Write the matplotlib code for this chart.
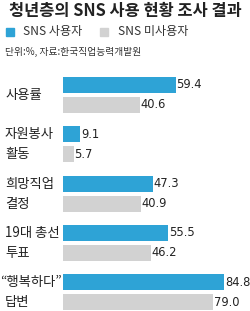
import numpy as np
import matplotlib
matplotlib.use('Agg')
import matplotlib.pyplot as plt

plt.rcParams['font.family'] = ['Noto Sans CJK KR', 'DejaVu Sans']

# 데이터
categories = ['사용률', '자원봉사\n활동', '희망직업\n결정', '19대 총선\n투표', '“행복하다”\n답변']
users = [59.4, 9.1, 47.3, 55.5, 84.8]
non_users = [40.6, 5.7, 40.9, 46.2, 79.0]

blue = '#2ea3d6'
gray = '#d2d2d2'

W, H = 250, 311
fig = plt.figure(figsize=(W / 100, H / 100), dpi=100)
fig.patch.set_facecolor('white')

# 제목, 범례, 단위
fig.text(0.5, 1 - 11 / H, '청년층의 SNS 사용 현황 조사 결과', ha='center', va='center',
         fontsize=11.8, fontweight='bold', color='#222222')
fig.patches.append(plt.Rectangle((6 / W, 1 - 36 / H), 8 / W, 8 / H, transform=fig.transFigure,
                                 color=blue))
fig.text(23 / W, 1 - 32 / H, 'SNS 사용자', va='center', fontsize=8.7, color='#333333')
fig.patches.append(plt.Rectangle((100 / W, 1 - 36 / H), 8 / W, 8 / H, transform=fig.transFigure,
                                 color=gray))
fig.text(118 / W, 1 - 32 / H, 'SNS 미사용자', va='center', fontsize=8.7, color='#333333')
fig.text(5 / W, 1 - 52 / H, '단위:%, 자료:한국직업능력개발원', va='center', fontsize=7,
         color='#333333')

# 막대 그래프
top = 74
ax = fig.add_axes([63 / W, 0, (W - 63) / W, (H - top) / H])
ax.set_xlim(0, (W - 63) / 1.9)
ax.set_ylim(H - top, 0)
ax.axis('off')

y_blue = 11 + 49.3 * np.arange(len(categories))
y_gray = y_blue + 20
ax.barh(y_blue, users, height=16, color=blue)
ax.barh(y_gray, non_users, height=16, color=gray)

num_font = ['Liberation Sans Narrow', 'DejaVu Sans']
for yb, yg, u, n in zip(y_blue, y_gray, users, non_users):
    ax.text(u + 0.4, yb, f'{u:.1f}', va='center', ha='left', fontsize=8.3,
            color='#222222', family=num_font)
    ax.text(n + 0.4, yg, f'{n:.1f}', va='center', ha='left', fontsize=8.3,
            color='#222222', family=num_font)

# 항목 이름
for i, (cat, yb, yg) in enumerate(zip(categories, y_blue, y_gray)):
    lines = cat.split('\n')
    x0 = 0 if lines[0].startswith('“') else 5
    if len(lines) == 1:
        fig.text(x0 / W, 1 - (top + (yb + yg) / 2) / H, lines[0], va='center', fontsize=9.6,
                 color='#222222')
    else:
        fig.text(x0 / W, 1 - (top + yb) / H, lines[0], va='center', fontsize=9.6, color='#222222')
        fig.text(5 / W, 1 - (top + yg) / H, lines[1], va='center', fontsize=9.6, color='#222222')

fig.savefig('out.png', dpi=100, facecolor='white')
